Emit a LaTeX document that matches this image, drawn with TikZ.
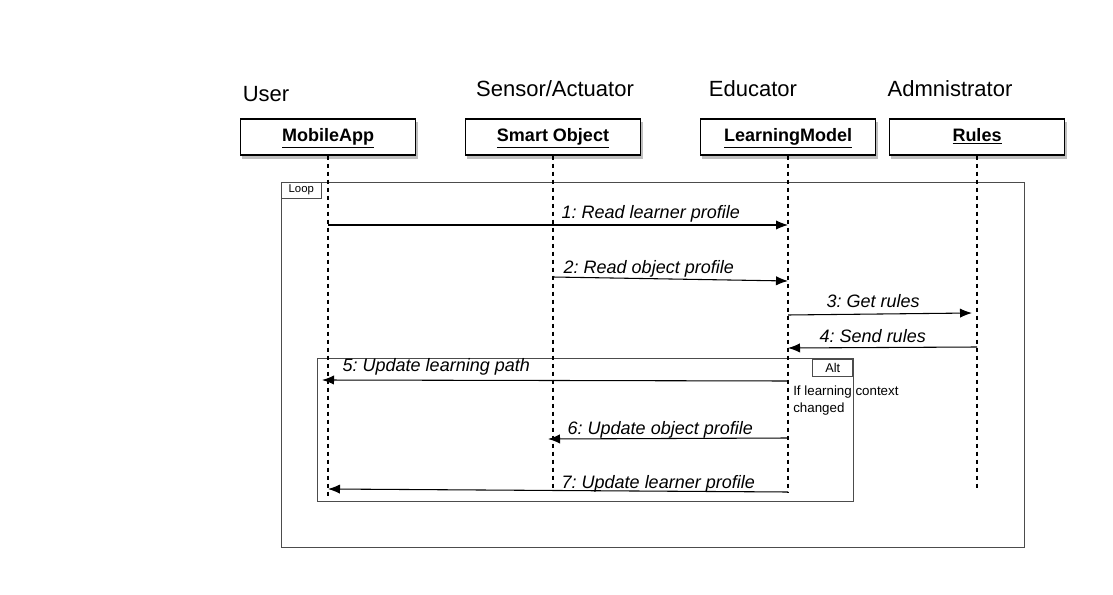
\documentclass[tikz,border=0pt]{standalone}
\usepackage{fontspec}
\setmainfont{Liberation Sans}
\usetikzlibrary{arrows.meta}
\frenchspacing
\begin{document}
\begin{tikzpicture}[x=0.75pt,y=-0.75pt,
 obj/.style={draw,thick,fill=white,minimum width=131pt,minimum height=27pt,text height=10pt,text depth=3pt,font=\fontsize{13.5}{15}\selectfont\bfseries},
 actor/.style={font=\fontsize{16.5}{18}\selectfont},
 life/.style={dashed,thick},
 msg/.style={thick,-{Latex[length=9pt,width=7pt]}},
 lab/.style={font=\fontsize{13.5}{15}\selectfont\itshape,anchor=base west},
 frame/.style={draw=black!70}]
\useasboundingbox (0,0) rectangle (1113,595);
% boxes
\foreach \n/\x/\t in {a/328/MobileApp,b/553/Smart Object,c/788/LearningModel,d/977/Rules}{
 \fill[black!25] (\x-86,122) rectangle (\x+90,159);
 \node[obj] (\n) at (\x,137) {\underline{\t}};
}
\node[actor] (u) at (266,94) {User};
\node[actor] (s) at (555,89) {Sensor/Actuator};
\node[actor] (e) at (753,89) {Educator};
\node[actor] (ad) at (950,89) {Admnistrator};
% frames
\draw[frame] (281,182) rectangle (1024,547);
\node[draw=black!70,anchor=north west,inner sep=2pt,minimum width=30pt,minimum height=12pt,font=\fontsize{8.5}{10}\selectfont] (lp) at (281,182) {Loop};
\draw[frame] (317,358) rectangle (853,501);
\node[draw=black!70,anchor=north east,inner sep=2pt,minimum width=30pt,minimum height=13pt,font=\fontsize{9.5}{10}\selectfont] (alt) at (853,359) {Alt};
\node[anchor=north west,align=left,inner sep=0pt,font=\fontsize{10}{12.5}\selectfont] (cond) at (793,386) {If learning context\\changed};
% lifelines
\coordinate (ae) at (328,497);
\coordinate (be) at (553,490);
\coordinate (ce) at (788,492);
\coordinate (de) at (977,490);
\foreach \n in {a,b,c,d} \draw[life] (\n.south) -- (\n e);
% messages
\coordinate (m1s) at (328,225); \coordinate (m1e) at (788,225);
\draw[msg] (m1s) -- (m1e);
\node[lab] at (557,219) {1: Read learner profile};
\coordinate (m2s) at (553,277); \coordinate (m2e) at (788,281);
\draw[msg] (m2s) -- (m2e);
\node[lab] at (559,273) {2: Read object profile};
\coordinate (m3s) at (788,315); \coordinate (m3e) at (972,313);
\draw[msg] (m3s) -- (m3e);
\node[lab] at (822,307) {3: Get rules};
\coordinate (m4s) at (977,347); \coordinate (m4e) at (788,348);
\draw[msg] (m4s) -- (m4e);
\node[lab] at (815,342) {4: Send rules};
\coordinate (m5s) at (788,381); \coordinate (m5e) at (322,380);
\draw[msg] (m5s) -- (m5e);
\node[lab] at (338,371) {5: Update learning path};
\coordinate (m6s) at (788,438); \coordinate (m6e) at (548,439);
\draw[msg] (m6s) -- (m6e);
\node[lab] at (563,434) {6: Update object profile};
\coordinate (m7s) at (788,492); \coordinate (m7e) at (328,489);
\draw[msg] (m7s) -- (m7e);
\node[lab] at (557,488) {7: Update learner profile};
\end{tikzpicture}
\end{document}
